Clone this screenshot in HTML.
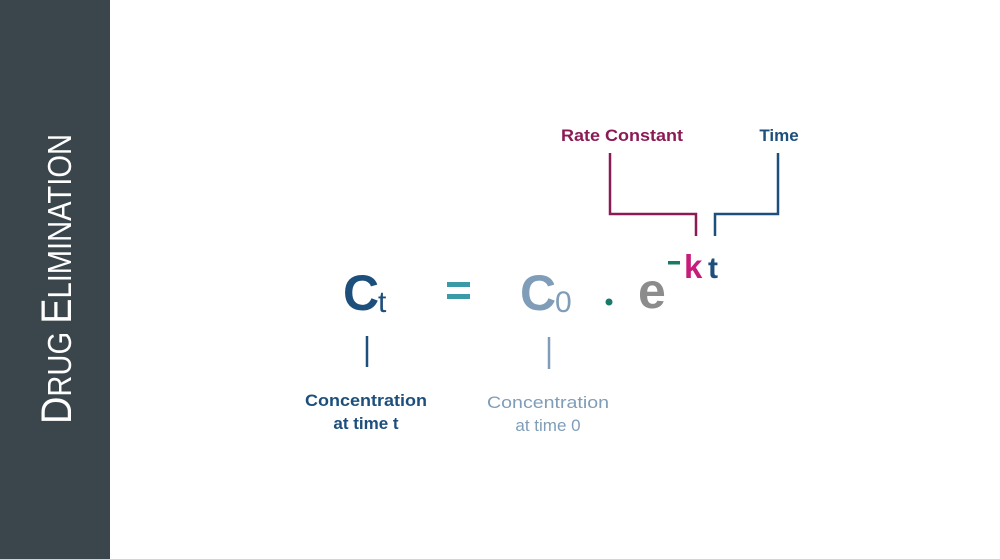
<!DOCTYPE html>
<html><head><meta charset="utf-8"><style>
html,body{margin:0;padding:0;background:#fff;}
svg{display:block}
text{font-family:"Liberation Sans","DejaVu Sans",sans-serif;}
</style></head><body>
<svg width="1000" height="559" viewBox="0 0 1000 559">
<rect x="0" y="0" width="110" height="559" fill="#3a464b"/>
<text transform="translate(71,424) rotate(-90)" fill="#fff" font-size="33" textLength="290" lengthAdjust="spacingAndGlyphs"><tspan font-size="43">D</tspan>RUG <tspan font-size="43">E</tspan>LIMINATION</text>

<text x="622" y="141" text-anchor="middle" font-size="17" font-weight="bold" fill="#8b1a55" textLength="122" lengthAdjust="spacingAndGlyphs">Rate Constant</text>
<text x="779" y="141" text-anchor="middle" font-size="17" font-weight="bold" fill="#1d4f7c">Time</text>
<polyline points="610,153 610,214 696,214 696,236" fill="none" stroke="#8b1a55" stroke-width="2.5"/>
<polyline points="778,153 778,214 715,214 715,236" fill="none" stroke="#1d4f7c" stroke-width="2.5"/>

<text x="343" y="310" font-size="50" font-weight="bold" fill="#1d4f7c">C</text>
<text x="378" y="312" font-size="30" fill="#1d4f7c">t</text>
<rect x="447" y="282" width="23" height="5" fill="#3a9aa8"/>
<rect x="447" y="294" width="23" height="5" fill="#3a9aa8"/>
<text x="520" y="310" font-size="50" fill="#7f9db8" font-weight="bold">C</text>
<text x="555" y="312" font-size="30" fill="#7f9db8">0</text>
<circle cx="609" cy="302" r="3.5" fill="#1a7a6a"/>
<text x="638" y="308" font-size="50" font-weight="bold" fill="#8c8c8c">e</text>
<rect x="668" y="261" width="12" height="3.5" fill="#1a7a6a"/>
<text x="684" y="278" font-size="33" font-weight="bold" fill="#c71d7a">k</text>
<text x="708" y="278" font-size="30" font-weight="bold" fill="#1d4f7c">t</text>

<line x1="367" y1="336" x2="367" y2="367" stroke="#1d4f7c" stroke-width="2.5"/>
<line x1="549" y1="337" x2="549" y2="369" stroke="#7f9db8" stroke-width="2.5"/>

<text x="366" y="406" text-anchor="middle" font-size="17" font-weight="bold" fill="#1d4f7c" textLength="122" lengthAdjust="spacingAndGlyphs">Concentration</text>
<text x="366" y="429" text-anchor="middle" font-size="17" font-weight="bold" fill="#1d4f7c">at time t</text>
<text x="548" y="408" text-anchor="middle" font-size="17" fill="#7f9db8" textLength="122" lengthAdjust="spacingAndGlyphs">Concentration</text>
<text x="548" y="431" text-anchor="middle" font-size="17" fill="#7f9db8">at time 0</text>
</svg>
</body></html>
